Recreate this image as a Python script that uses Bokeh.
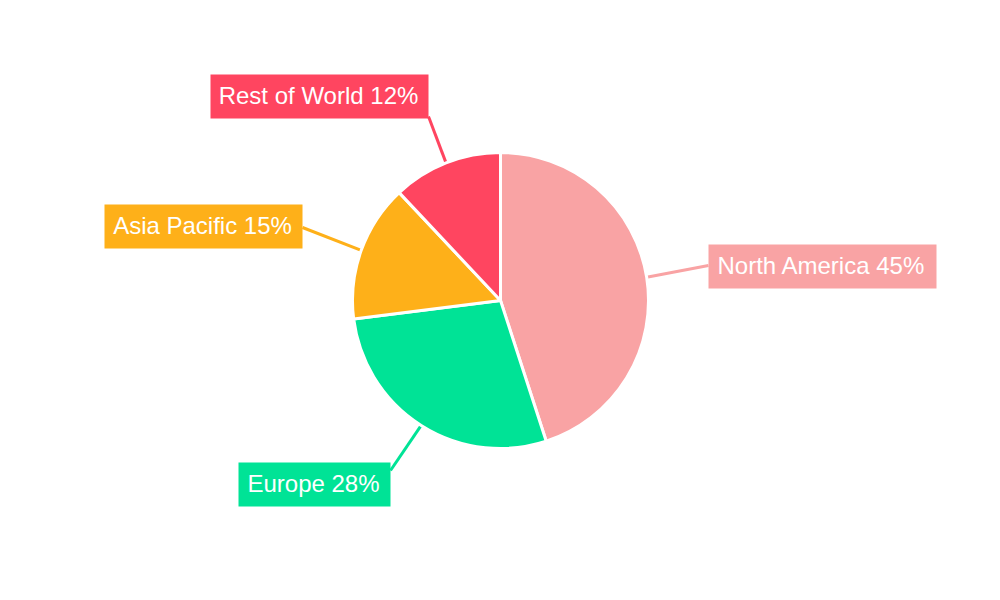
import math
from bokeh.plotting import figure
from bokeh.models import Range1d
from bokeh.core.properties import value
from bokeh.embed import file_html
from bokeh.resources import INLINE

# Revenue share by region
regions = ["North America", "Europe", "Asia Pacific", "Rest of World"]
shares = [45, 28, 15, 12]
colors = ["#f9a3a4", "#00e396", "#feb019", "#ff4560"]

W, H = 1000, 600
CX, CY, R = 500, 300, 148  # pie centre and radius in pixels

# label boxes (left, top, right, bottom) in page pixels, and where each leader line meets its box
boxes = [(708, 244, 936, 288), (238, 462, 390, 506), (104, 204, 302, 248), (210, 74, 428, 118)]
anchors = [(708, 265), (390, 470), (302, 227), (428, 116)]


def fy(y):
    # page pixel y (down) -> data y (up)
    return H - y


p = figure(width=W, height=H, x_range=Range1d(0, W), y_range=Range1d(0, H),
           output_backend="svg", toolbar_location=None,
           x_axis_location=None, y_axis_location=None, min_border=0)
p.grid.visible = False
p.outline_line_color = None
p.background_fill_color = "white"
p.border_fill_color = "white"

total = sum(shares)
starts, ends, mids = [], [], []
acc = 0.0
for s in shares:
    t0 = 2 * math.pi * acc / total
    acc += s
    t1 = 2 * math.pi * acc / total
    starts.append(math.pi / 2 - t0)
    ends.append(math.pi / 2 - t1)
    mids.append((t0 + t1) / 2)

# leader lines, drawn first so the boxes sit on top
for m, (ax, ay), c in zip(mids, anchors, colors):
    px = CX + R * math.sin(m)
    py = fy(CY) + R * math.cos(m)
    p.line([px, ax], [py, fy(ay)], line_color=c, line_width=3)

p.wedge(x=[CX] * len(shares), y=[fy(CY)] * len(shares), radius=R,
        start_angle=starts, end_angle=ends, direction="clock",
        fill_color=colors, line_color="white", line_width=3)

p.quad(left=[b[0] for b in boxes], right=[b[2] for b in boxes],
       top=[fy(b[1]) for b in boxes], bottom=[fy(b[3]) for b in boxes],
       fill_color=colors, line_color=None)

labels = [f"{n} {s}%" for n, s in zip(regions, shares)]
p.text(x=[(b[0] + b[2]) / 2 - 1 for b in boxes], y=[fy((b[1] + b[3]) / 2 - 1) for b in boxes],
       text=labels, text_align="center", text_baseline="middle",
       text_color="white", text_font=value("Liberation Sans"), text_font_size="24px")

open("out.html", "w").write(file_html(p, INLINE))
